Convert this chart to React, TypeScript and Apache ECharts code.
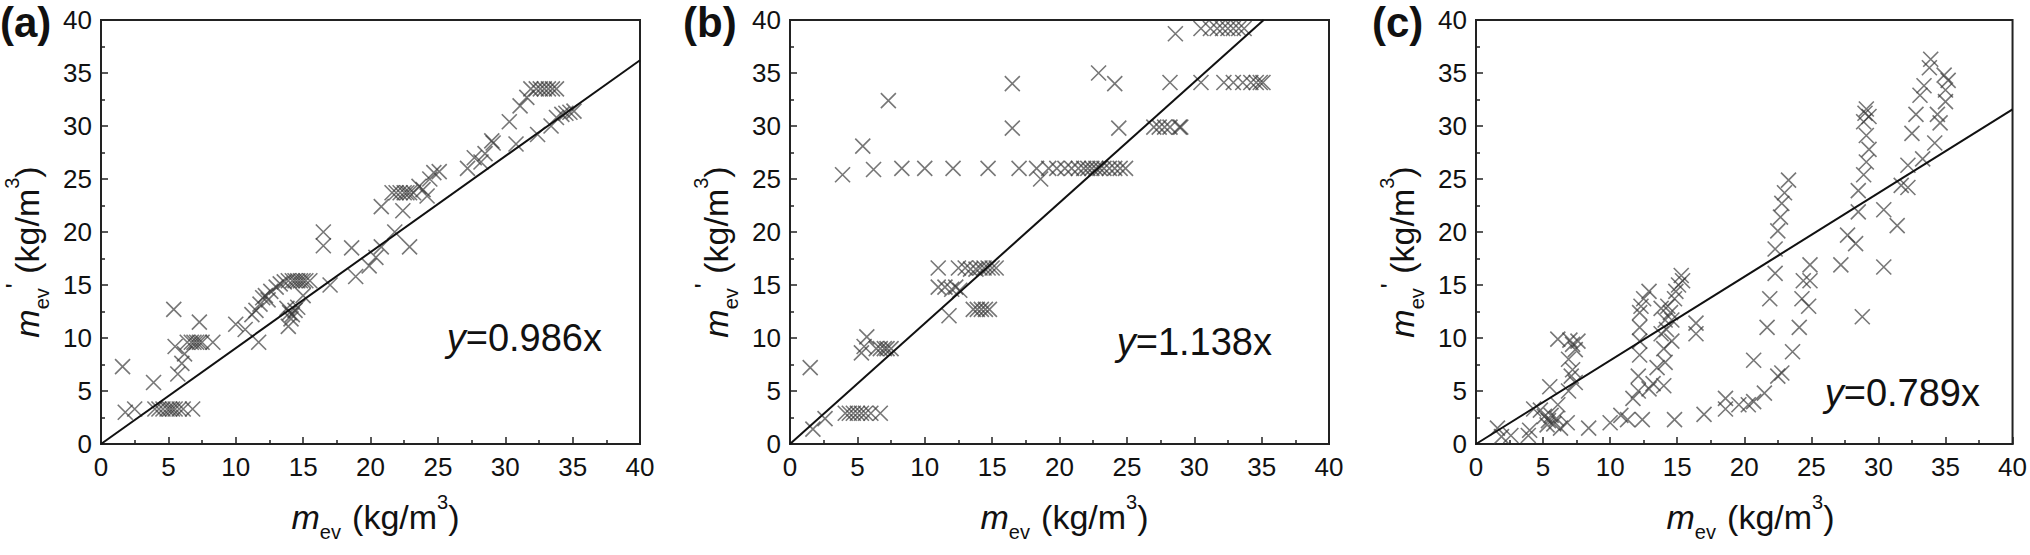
import React, { useEffect, useRef } from "react";
import * as echarts from "echarts";

// ---------- data ----------
const panelLabels = ["(a)", "(b)", "(c)"];
const slopeTexts = ["0.986", "1.138", "0.789"];

const panelA: number[][] = [
  [1.6, 7.3], [1.8, 3.0], [2.5, 3.3], [3.9, 5.8],
  [4.0, 3.3], [4.3, 3.3], [4.6, 3.3], [4.9, 3.3], [5.1, 3.3], [5.3, 3.3], [5.5, 3.3], [5.8, 3.3], [6.1, 3.3], [6.8, 3.3],
  [5.4, 12.7], [5.5, 9.2], [5.7, 6.6], [6.0, 7.6], [6.2, 8.5],
  [6.4, 9.6], [6.7, 9.6], [6.9, 9.6], [7.1, 9.6], [7.3, 9.6], [7.5, 9.6],
  [7.3, 11.5], [8.3, 9.6], [10.0, 11.3], [10.7, 10.8], [11.7, 9.6],
  [11.2, 12.2], [11.5, 12.6], [11.8, 13.2], [12.0, 13.8], [12.2, 14.0], [12.4, 13.6], [12.6, 14.4], [13.0, 14.8], [13.3, 15.1], [13.6, 15.3],
  [13.9, 15.4], [14.2, 15.4], [14.4, 15.4], [14.6, 15.4], [14.8, 15.4], [15.0, 15.4], [15.2, 15.4], [15.5, 15.4],
  [13.8, 12.8], [14.0, 12.4], [14.2, 12.2], [14.4, 12.6], [14.6, 12.9], [14.1, 11.8], [13.9, 11.1],
  [15.0, 14.0], [16.5, 20.0], [16.5, 18.7], [17.0, 15.0], [18.6, 18.5], [18.9, 15.8], [19.9, 16.8], [20.4, 17.6], [20.8, 18.6], [20.8, 22.4], [21.8, 20.0], [22.4, 22.0], [22.9, 18.6],
  [21.6, 23.7], [21.9, 23.7], [22.2, 23.7], [22.5, 23.7], [22.7, 23.7], [22.9, 23.7], [23.2, 23.7],
  [23.6, 24.3], [23.9, 24.0], [24.2, 23.4], [24.4, 25.0], [24.7, 25.6], [25.1, 25.7],
  [27.2, 26.0], [27.7, 27.0], [28.2, 26.6], [28.5, 27.4], [29.0, 28.6], [29.1, 28.4], [30.3, 30.4], [30.8, 28.3], [31.1, 31.9], [31.6, 32.7],
  [31.9, 33.5], [32.3, 33.5], [32.6, 33.5], [32.9, 33.5], [33.2, 33.5], [33.5, 33.5], [33.8, 33.5],
  [32.4, 29.2], [33.4, 30.0],
  [33.8, 30.8], [34.2, 31.1], [34.5, 31.2], [34.8, 31.3], [35.1, 31.4],
];

const panelB: number[][] = [
  [1.5, 7.2], [1.7, 1.4], [2.6, 2.4], [3.9, 25.4],
  [4.1, 2.9], [4.4, 2.9], [4.7, 2.9], [5.0, 2.9], [5.3, 2.9], [5.6, 2.9], [6.0, 2.9], [6.7, 2.9],
  [5.4, 28.1], [7.3, 32.4], [5.3, 8.6], [5.5, 9.2], [5.7, 10.1], [6.2, 25.9],
  [6.4, 9.0], [6.7, 9.0], [7.0, 9.0], [7.2, 9.0], [7.5, 9.0],
  [8.3, 26.0], [10.0, 26.0], [12.1, 26.0], [14.7, 26.0], [17.0, 26.0], [16.5, 34.0], [16.5, 29.8],
  [11.0, 16.6], [11.0, 14.8], [11.8, 12.1], [11.5, 14.8], [12.0, 14.6], [12.3, 14.8], [12.6, 14.5],
  [12.5, 16.6], [13.0, 16.6], [13.4, 16.5], [13.8, 16.5], [14.1, 16.6], [14.4, 16.6], [14.7, 16.6], [15.0, 16.6], [15.3, 16.6],
  [13.6, 12.7], [13.9, 12.7], [14.2, 12.7], [14.5, 12.7], [14.8, 12.7],
  [18.6, 25.0], [18.3, 26.0], [19.2, 26.0], [19.8, 26.0], [20.4, 26.0], [20.9, 26.0], [21.4, 26.0], [21.8, 26.0], [22.1, 26.0],
  [22.4, 26.0], [22.7, 26.0], [23.0, 26.0], [23.3, 26.0], [23.7, 26.0], [24.1, 26.0], [24.5, 26.0], [24.9, 26.0],
  [22.9, 35.0], [24.1, 34.0], [24.4, 29.8],
  [27.0, 29.9], [27.4, 29.9], [27.8, 29.9], [28.2, 29.9], [28.9, 29.9], [29.0, 29.9],
  [28.6, 38.7], [28.2, 34.1], [30.5, 34.1],
  [30.5, 39.2], [31.2, 39.2], [31.7, 39.2], [32.1, 39.2], [32.5, 39.2], [32.9, 39.2], [33.3, 39.2], [33.7, 39.2],
  [32.2, 34.1], [32.9, 34.1], [33.6, 34.1], [34.2, 34.1], [34.6, 34.1], [34.9, 34.1], [35.1, 34.1],
];

const panelC: number[][] = [
  [1.6, 1.5], [1.9, 0.7], [2.6, 0.8], [3.9, 0.8], [4.0, 1.3], [4.3, 3.3], [4.8, 3.2], [5.5, 5.4],
  [5.1, 2.6], [5.4, 2.2], [5.6, 2.7], [5.8, 1.9], [6.0, 2.4], [5.3, 1.8],
  [6.1, 3.7], [6.3, 1.5], [6.1, 9.9], [6.8, 2.0],
  [6.9, 5.0], [7.1, 6.4], [6.9, 8.0], [7.2, 9.4], [7.4, 8.9], [7.6, 9.7], [7.2, 7.0], [7.0, 9.8], [7.4, 5.8],
  [8.4, 1.5], [10.0, 2.0], [10.8, 2.7], [11.3, 2.3], [11.7, 4.3],
  [12.1, 6.4], [12.2, 8.4], [12.2, 9.7], [12.2, 11.0], [12.2, 12.4], [12.5, 13.7], [12.9, 14.4], [12.3, 13.0], [12.1, 5.0],
  [12.4, 2.3], [12.9, 5.2], [13.2, 5.7], [13.5, 7.2],
  [14.0, 5.5], [14.1, 7.7], [14.0, 9.0], [13.8, 10.4], [14.1, 11.7], [14.5, 12.4], [14.3, 13.0], [14.8, 13.7], [14.9, 14.4],
  [15.1, 15.0], [15.4, 15.4], [15.3, 15.9], [14.6, 11.7], [14.6, 9.7], [13.8, 12.8], [14.2, 10.8],
  [14.8, 2.3], [16.4, 10.4], [16.4, 11.4], [17.0, 2.8], [18.6, 4.3], [18.6, 3.3], [19.6, 3.7], [20.3, 3.7], [20.7, 4.0], [21.5, 4.8], [20.7, 7.9],
  [21.7, 11.0], [21.9, 13.7], [22.3, 16.1], [22.3, 18.4], [22.5, 20.1], [22.7, 21.4], [22.8, 22.7], [23.0, 23.7], [23.3, 24.9],
  [22.5, 6.4], [22.8, 6.7], [23.6, 8.7], [24.1, 11.0], [24.3, 13.7], [24.4, 15.4], [24.8, 13.0], [24.9, 15.4], [24.9, 16.9],
  [27.2, 16.9], [27.7, 19.7], [28.3, 18.9], [28.5, 21.9], [28.5, 23.9], [28.8, 12.0],
  [28.9, 25.4], [29.1, 26.6], [29.3, 27.8], [29.1, 29.1], [28.9, 30.4], [29.1, 31.6], [29.3, 30.9], [29.0, 31.2],
  [30.4, 22.1], [30.4, 16.7], [31.4, 20.6], [31.7, 24.4], [32.2, 24.2], [32.2, 26.3], [32.5, 29.3], [32.8, 31.1], [33.1, 32.9],
  [33.3, 26.9], [33.4, 33.8], [33.8, 35.5], [33.9, 36.3], [34.2, 28.4], [34.4, 31.1], [34.6, 30.3], [34.9, 34.8], [35.0, 33.4],
  [35.2, 34.3], [35.0, 32.3],
];

// fitted lines as drawn in the figure
const lineA: number[][] = [[0, 0], [40, 36.2]];
const lineB: number[][] = [[0, 0], [35.15, 40]];
const lineC: number[][] = [[0, 0], [40, 31.56]];

const axisMin = 0;
const axisMax = 40;
const axisStep = 5;

// ---------- layout ----------
const gridLefts = [101, 790, 1476];
const gridTop = 20;
const gridW = 539;
const gridH = 424;
const slopeRight = [602, 1272, 1980];
const slopeMidY = [338, 342, 393];
const labelLefts = [0, 683, 1372];

const FONT = "'Liberation Sans', Arial, Helvetica, sans-serif";
const INK = "#111";

const richTitle = {
  m: { fontSize: 34, fontStyle: "italic", fontFamily: FONT, lineHeight: 50, fill: INK, color: INK },
  sub: { fontSize: 20, fontFamily: FONT, lineHeight: 20, verticalAlign: "bottom", fill: INK, color: INK },
  pr: { fontSize: 26, fontFamily: FONT, lineHeight: 40, verticalAlign: "top", fill: INK, color: INK },
  t: { fontSize: 34, fontFamily: FONT, lineHeight: 50, fill: INK, color: INK },
  sup: { fontSize: 20, fontFamily: FONT, lineHeight: 26, verticalAlign: "top", fill: INK, color: INK },
};

const richSlope = {
  i: { fontSize: 38, fontStyle: "italic", fontFamily: FONT, fill: INK, color: INK },
  n: { fontSize: 38, fontFamily: FONT, fill: INK, color: INK },
};

function buildOption() {
  const scatterData = [panelA, panelB, panelC];
  const lineData = [lineA, lineB, lineC];

  const grids = gridLefts.map((left) => ({
    left,
    top: gridTop,
    width: gridW,
    height: gridH,
    show: true,
    borderColor: "#222",
    borderWidth: 2,
    backgroundColor: "transparent",
  }));

  const axisCommon = (i: number) => ({
    type: "value",
    gridIndex: i,
    min: axisMin,
    max: axisMax,
    interval: axisStep,
    axisLine: { show: true, onZero: false, lineStyle: { color: "#222", width: 2 } },
    axisTick: { show: true, inside: true, length: 7, lineStyle: { color: "#222", width: 1.5 } },
    minorTick: { show: true, splitNumber: 2, length: 4, lineStyle: { color: "#222", width: 1.5 } },
    splitLine: { show: false },
    minorSplitLine: { show: false },
  });

  const xAxes = gridLefts.map((_, i) => ({
    ...axisCommon(i),
    axisLabel: { fontSize: 26, color: INK, fontFamily: FONT, margin: 10 },
  }));
  const yAxes = gridLefts.map((_, i) => ({
    ...axisCommon(i),
    axisLabel: { fontSize: 26, color: INK, fontFamily: FONT, margin: 9 },
  }));

  const series: any[] = [];
  scatterData.forEach((d, i) => {
    series.push({
      type: "scatter",
      xAxisIndex: i,
      yAxisIndex: i,
      data: d,
      symbol: "path://M0 0L10 10M10 0L0 10",
      symbolSize: 15,
      itemStyle: { color: "rgba(0,0,0,0)", borderColor: "rgba(55,55,55,0.85)", borderWidth: 1.6 },
      silent: true,
      z: 3,
    });
    series.push({
      type: "line",
      xAxisIndex: i,
      yAxisIndex: i,
      data: lineData[i],
      showSymbol: false,
      symbol: "none",
      lineStyle: { color: "#111", width: 2 },
      clip: true,
      silent: true,
      z: 4,
    });
  });

  const graphics: any[] = [];
  gridLefts.forEach((left, i) => {
    // panel label
    graphics.push({
      type: "text",
      x: labelLefts[i],
      y: 22,
      style: {
        text: panelLabels[i],
        font: `bold 42px ${FONT}`,
        fontSize: 42,
        fontWeight: "bold",
        fontFamily: FONT,
        fill: INK,
        textAlign: "left",
        align: "left",
        textVerticalAlign: "middle",
        verticalAlign: "middle",
      },
    });
    // slope annotation
    graphics.push({
      type: "text",
      x: slopeRight[i],
      y: slopeMidY[i],
      style: {
        text: `{i|y}{n|=${slopeTexts[i]}x}`,
        rich: richSlope,
        fill: INK,
        textAlign: "right",
        align: "right",
        textVerticalAlign: "middle",
        verticalAlign: "middle",
      },
    });
    // x title
    graphics.push({
      type: "text",
      x: left + gridW / 2 + 5,
      y: 517,
      style: {
        text: "{m|m}{sub|ev\u00a0\u00a0}{t|(kg/m}{sup|3}{t|)}",
        rich: richTitle,
        fill: INK,
        textAlign: "center",
        align: "center",
        textVerticalAlign: "middle",
        verticalAlign: "middle",
      },
    });
    // y title
    graphics.push({
      type: "text",
      x: left - 74,
      y: 252,
      rotation: Math.PI / 2,
      style: {
        text: "{m|m}{sub|ev}{pr|'}{t|\u00a0(kg/m}{sup|3}{t|)}",
        rich: richTitle,
        fill: INK,
        textAlign: "center",
        align: "center",
        textVerticalAlign: "middle",
        verticalAlign: "middle",
      },
    });
  });

  return {
    animation: false,
    backgroundColor: "#fff",
    grid: grids,
    xAxis: xAxes,
    yAxis: yAxes,
    series,
    graphic: graphics,
  };
}

export default function App() {
  const ref = useRef<HTMLDivElement>(null);
  useEffect(() => {
    if (!ref.current) return;
    const chart = echarts.init(ref.current, null, { renderer: "svg" });
    chart.setOption(buildOption() as any);
    return () => {
      chart.dispose();
    };
  }, []);
  return (
    <div
      ref={ref}
      style={{ position: "absolute", left: 0, top: 0, width: 2030, height: 555, background: "#fff" }}
    />
  );
}
